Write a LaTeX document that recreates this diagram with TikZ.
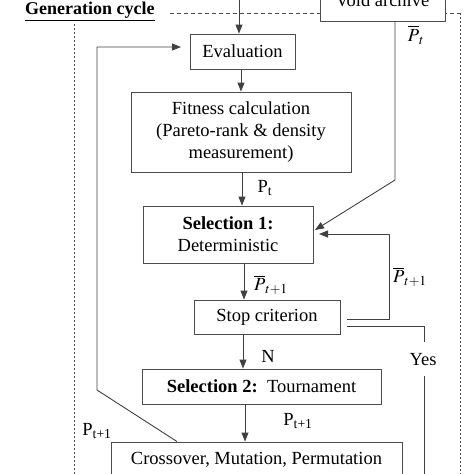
\documentclass[tikz,border=0pt]{standalone}
\usepackage{mathptmx}
\usepackage[no-math]{fontspec}
\setmainfont{Liberation Serif}
\usetikzlibrary{arrows.meta}

\tikzset{
  box/.style={draw=black!70, line width=0.9pt, fill=white, align=center, inner sep=0pt},
  flow/.style={draw=black!75, line width=0.9pt},
  arr/.style={flow, -{Triangle[length=9pt,width=7pt]}},
  lbl/.style={inner sep=0pt},
  frame/.style={draw=black!70, line width=0.7pt},
}

\begin{document}
\begin{tikzpicture}[x=1pt, y=-1pt, font=\fontsize{18.5}{22}\selectfont]
  \useasboundingbox (0,0) rectangle (474,474);
  \clip (0,0) rectangle (474,474);

  % 枠
  \draw[frame, dash pattern=on 4pt off 3pt] (170,13) -- (460,13);
  \draw[frame, dash pattern=on 2pt off 2pt] (460,13) -- (460,480);
  \draw[frame, dash pattern=on 2pt off 2pt] (74,24) -- (74,480);
  \node[lbl, anchor=base west, font=\fontsize{18}{22}\selectfont\bfseries] (title) at (25,14) {\underline{Generation cycle}};

  % 箱
  \node[box, minimum width=125pt, minimum height=42pt] (void) at (382.5,0) {Void archive};
  \node[box, minimum width=105pt, minimum height=35pt] (eval) at (242.5,51.5) {Evaluation};
  \node[box, minimum width=220pt, minimum height=80pt] (fit) at (241,132) {Fitness calculation\\(Pareto-rank \& density\\measurement)};
  \node[box, minimum width=170pt, minimum height=57pt] (sel1) at (228,234.5) {\textbf{Selection 1:}\\Deterministic};
  \node[box, minimum width=146pt, minimum height=34pt] (stop) at (267,317) {Stop criterion};
  \node[box, minimum width=239pt, minimum height=35pt] (sel2) at (261.5,386.5) {\textbf{Selection 2:}\ \ Tournament};
  \node[box, minimum width=291pt, minimum height=36pt] (cross) at (256.5,460) {Crossover, Mutation, Permutation};

  % 縦の矢印
  \coordinate (in) at (239,-5);
  \coordinate (a1) at (241,0);
  \coordinate (a2) at (242,0);
  \coordinate (a3) at (244,0);
  \coordinate (a4) at (243,0);
  \coordinate (a5) at (245,0);
  \draw[arr] (in) -- (eval.north -| in);
  \draw[arr] (eval.south -| a1) -- (fit.north -| a1);
  \draw[arr] (fit.south -| a2) -- (sel1.north -| a2);
  \draw[arr] (sel1.south -| a3) -- (stop.north -| a3);
  \draw[arr] (stop.south -| a4) -- (sel2.north -| a4);
  \draw[arr] (sel2.south -| a5) -- (cross.north -| a5);

  % アーカイブ → Selection 1
  \coordinate (arch) at (395,0);
  \coordinate (sel1in) at (315,230);
  \draw[arr] (void.south -| arch) -- (395,180) -- (sel1in);

  % Stop criterion → Selection 1
  \coordinate (fb) at (347,319);
  \coordinate (sel1fb) at (319,234);
  \draw[arr] (fb) -- (389,319) -- (389,234) -- (sel1fb);

  % Yes
  \node[lbl] (yes) at (423,360) {Yes};
  \draw[flow] (347,326) -- (424,326) -- (424,342);
  \draw[flow] (424,376) -- (424,480);

  % Crossover → Evaluation
  \coordinate (loop) at (177,0);
  \coordinate (evalin) at (181,47);
  \draw[arr] (cross.north -| loop) -- (97,390) -- (97,47) -- (evalin);

  % ラベル
  \node[lbl] (pt) at (265,188) {P\textsubscript{t}};
  \node[lbl] (pbt) at (416,35) {$\overline{P}_t$};
  \node[lbl] (pbs) at (271,285) {$\overline{P}_{t+1}$};
  \node[lbl] (pbf) at (410,277) {$\overline{P}_{t+1}$};
  \node[lbl] (no) at (268,356) {N};
  \node[lbl] (pts) at (298,421) {P\textsubscript{t+1}};
  \node[lbl] (ptl) at (97,431) {P\textsubscript{t+1}};
\end{tikzpicture}
\end{document}
